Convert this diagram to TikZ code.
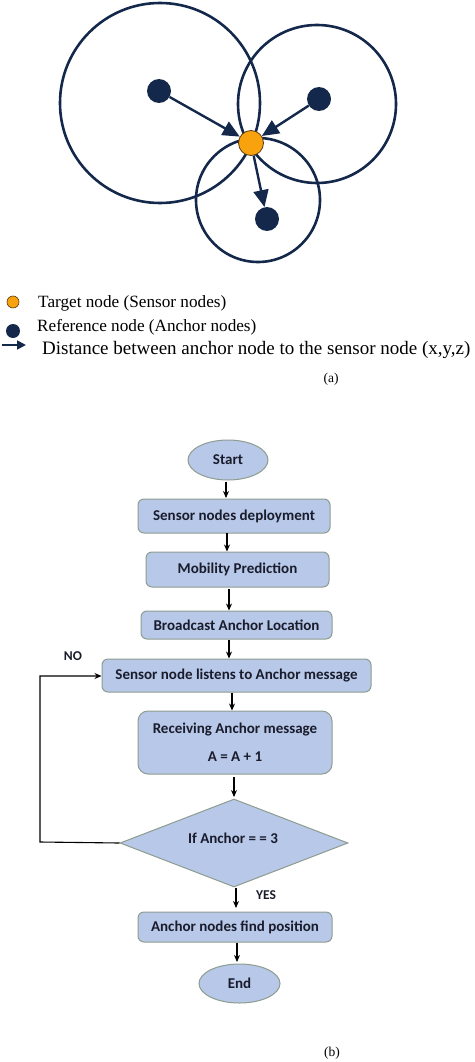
\documentclass[tikz,border=0pt]{standalone}
\usepackage{fontspec}
\setmainfont{Liberation Serif}
\newfontfamily\flowfont{Carlito}
\usetikzlibrary{arrows.meta,shapes.geometric}
\definecolor{navy}{HTML}{14284B}
\definecolor{tgt}{HTML}{F8A30E}
\definecolor{tgtline}{HTML}{5A3A10}
\definecolor{boxfill}{HTML}{B7C8E8}
\definecolor{boxline}{HTML}{8E9C90}
\definecolor{txt}{HTML}{1A1C2C}
\tikzset{
  ring/.style={draw=navy,line width=2.6pt},
  anchornode/.style={circle,fill=navy,inner sep=0pt,minimum size=24pt},
  targetnode/.style={circle,fill=tgt,draw=tgtline,line width=0.8pt,inner sep=0pt,minimum size=25pt},
  darr/.style={draw=navy,line width=2.4pt,-{Triangle[length=17pt,width=15pt]}},
  legtext/.style={anchor=west,inner sep=0pt,font=\fontsize{17.2}{19}\selectfont},
  flowtext/.style={text=txt,font=\flowfont\bfseries\fontsize{15}{17}\selectfont},
  proc/.style={rectangle,rounded corners=6pt,fill=boxfill,draw=boxline,line width=1pt,
    flowtext,align=center,inner sep=0pt},
  term/.style={ellipse,fill=boxfill,draw=boxline,line width=1pt,flowtext,inner sep=0pt},
  dec/.style={diamond,fill=boxfill,draw=boxline,line width=1pt,flowtext,inner sep=0pt,aspect=2.6},
  farr/.style={draw=black,line width=1.1pt,-{Stealth[length=7pt,width=6pt]}},
  flab/.style={text=txt,font=\flowfont\bfseries\fontsize{13.5}{15}\selectfont,inner sep=0pt},
  caption/.style={font=\fontsize{13.5}{15}\selectfont,inner sep=0pt}
}
\begin{document}
\begin{tikzpicture}[x=1pt,y=-1pt]
\useasboundingbox (0,0) rectangle (474,1062);
% (a) circles
\draw[ring] (160,103) circle (100);
\draw[ring] (317,104) circle (79);
\draw[ring] (258,200) circle (62);
\node[anchornode] (a1) at (159,91) {};
\node[anchornode] (a2) at (319,99) {};
\node[anchornode] (a3) at (267,219) {};
\node[targetnode] (t) at (251,143) {};
\draw[darr] (a1) -- (t);
\draw[darr] (a2) -- (t);
\draw[darr] (t) -- (a3);
% legend
\node[targetnode,minimum size=12pt,line width=0.6pt] (lt) at (13,302) {};
\node[anchornode,minimum size=14pt] (la) at (13,331) {};
\coordinate (ls) at (2,345);
\coordinate (le) at (26,345);
\draw[draw=navy,line width=1.8pt,-{Triangle[length=9pt,width=9pt]}] (ls) -- (le);
\node[legtext] (l1) at (38,303) {Target node (Sensor nodes)};
\node[legtext] (l2) at (37,327) {Reference node (Anchor nodes)};
\node[legtext,font=\fontsize{19}{21}\selectfont] (l3) at (42,350) {Distance between anchor node to the sensor node (x,y,z)};
\node[caption] (ca) at (331,379) {(a)};
% (b) flowchart
\node[term,minimum width=80pt,minimum height=40pt] (start) at (228,460) {Start};
\node[proc,minimum width=192pt,minimum height=34pt] (b1) at (234,516) {Sensor nodes deployment};
\node[proc,minimum width=183pt,minimum height=35pt] (b2) at (237.5,569.5) {Mobility Prediction};
\node[proc,minimum width=191pt,minimum height=28pt] (b3) at (236.5,625) {Broadcast Anchor Location};
\node[proc,minimum width=269pt,minimum height=33pt] (b4) at (236.5,675.5) {Sensor node listens to Anchor message};
\node[proc,rounded corners=10pt,minimum width=194pt,minimum height=63pt] (b5) at (235,742.5) {Receiving Anchor message\\[11pt]A = A + 1};
\node[dec,minimum width=228pt,minimum height=88pt] (d) at (234,843) {};
\node[flowtext,inner sep=0pt] (dt) at (233,838) {If Anchor = = 3};
\node[proc,minimum width=194pt,minimum height=30pt] (b6) at (235,927) {Anchor nodes find position};
\node[term,minimum width=81pt,minimum height=39pt] (end) at (239.5,983.5) {End};
\draw[farr] (start.south -| 226,0) ++(0,1) -- (226,498);
\draw[farr] (227,533) -- (b2.north -| 227,0);
\draw[farr] (229,589) -- (b3.north -| 229,0);
\draw[farr] (b3.south -| 229,0) -- (b4.north -| 229,0);
\draw[farr] (b4.south -| 232,0) -- (b5.north -| 232,0);
\draw[farr] (234,777) -- (234,797);
\draw[farr] (d.south -| 236,0) -- (236,908);
\draw[farr] (b6.south -| 237,0) -- (237,962);
\draw[farr] (d.west) -- (40,842) -- (40,676) -- (b4.west |- 0,676);
\node[flab] (no) at (73,656) {NO};
\node[flab] (yes) at (266,895) {YES};
\node[caption] (cb) at (332,1053) {(b)};
\end{tikzpicture}
\end{document}
